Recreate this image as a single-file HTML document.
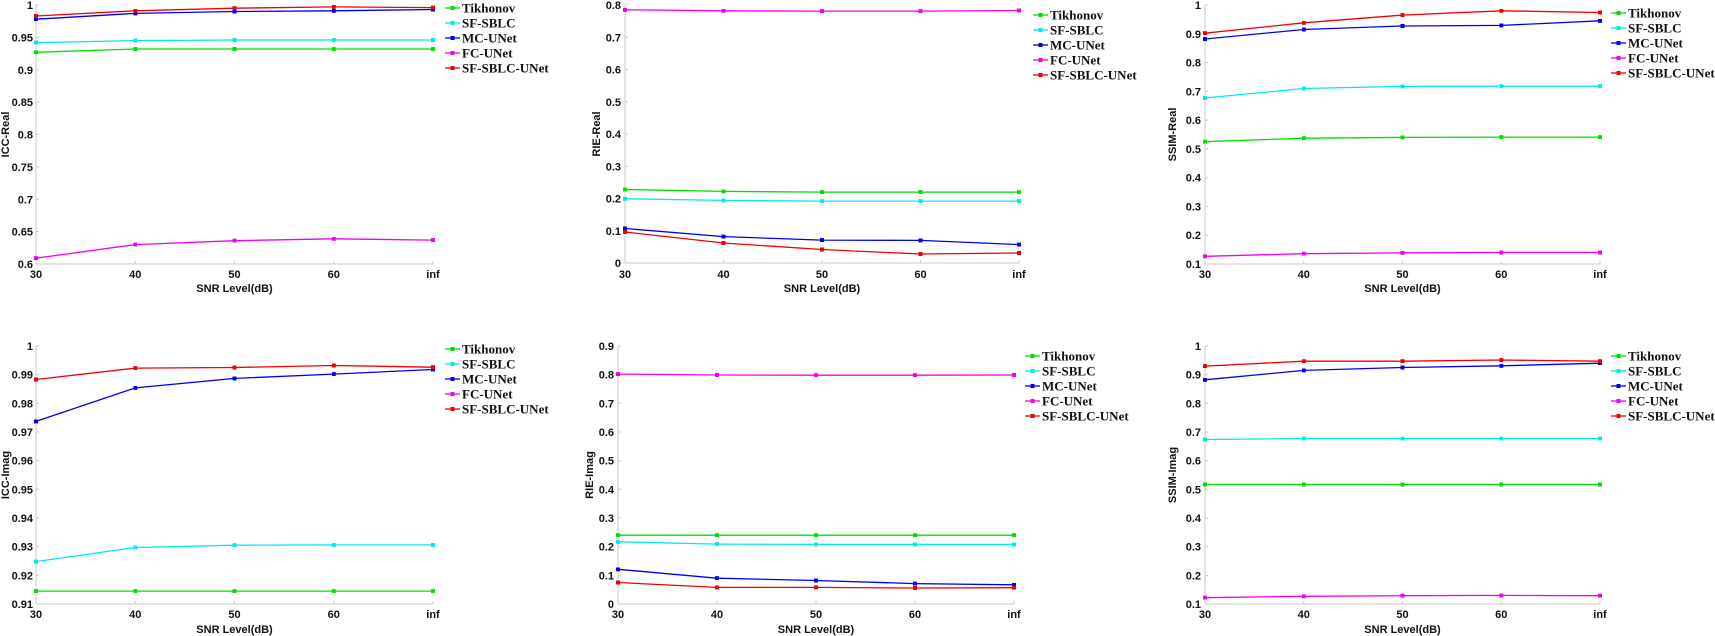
<!DOCTYPE html>
<html><head><meta charset="utf-8"><style>
html,body{margin:0;padding:0;background:#fff;}
svg{display:block;}
.t{font-family:"Liberation Sans",Arial,sans-serif;font-weight:bold;font-size:11px;fill:#111;}
.l{font-family:"Liberation Serif","Times New Roman",serif;font-weight:bold;font-size:13px;fill:#111;}
.ax{stroke:#c8c8c8;stroke-width:1;fill:none;}
polyline{fill:none;stroke-width:1.3;}
</style></head><body>
<svg width="1715" height="636" viewBox="0 0 1715 636" xmlns="http://www.w3.org/2000/svg">
<defs>
<marker id="mg" viewBox="0 0 4 4" refX="2" refY="2" markerWidth="4" markerHeight="4" markerUnits="userSpaceOnUse"><rect width="4" height="4" fill="#00e000"/></marker>
<marker id="mc" viewBox="0 0 4 4" refX="2" refY="2" markerWidth="4" markerHeight="4" markerUnits="userSpaceOnUse"><rect width="4" height="4" fill="#00e8f0"/></marker>
<marker id="mb" viewBox="0 0 4 4" refX="2" refY="2" markerWidth="4" markerHeight="4" markerUnits="userSpaceOnUse"><rect width="4" height="4" fill="#0000f0"/></marker>
<marker id="mm" viewBox="0 0 4 4" refX="2" refY="2" markerWidth="4" markerHeight="4" markerUnits="userSpaceOnUse"><rect width="4" height="4" fill="#f000f0"/></marker>
<marker id="mr" viewBox="0 0 4 4" refX="2" refY="2" markerWidth="4" markerHeight="4" markerUnits="userSpaceOnUse"><rect width="4" height="4" fill="#f00000"/></marker>
</defs>

<!-- ===== Panel A: ICC-Real ===== -->
<path class="ax" d="M36,5V264H433"/>
<path class="ax" d="M36,5h3M36,37.4h3M36,69.8h3M36,102.1h3M36,134.5h3M36,166.9h3M36,199.3h3M36,231.6h3M135.25,264v-3M234.5,264v-3M333.75,264v-3M433,264v-3"/>
<g class="t" text-anchor="end">
<text x="33" y="9">1</text><text x="33" y="41.4">0.95</text><text x="33" y="73.8">0.9</text><text x="33" y="106.1">0.85</text><text x="33" y="138.5">0.8</text><text x="33" y="170.9">0.75</text><text x="33" y="203.3">0.7</text><text x="33" y="235.6">0.65</text><text x="33" y="268">0.6</text>
</g>
<g class="t" text-anchor="middle">
<text x="36" y="278">30</text><text x="135.25" y="278">40</text><text x="234.5" y="278">50</text><text x="333.75" y="278">60</text><text x="433" y="278">inf</text>
<text x="234.5" y="292">SNR Level(dB)</text>
<text transform="translate(9,134.5) rotate(-90)">ICC-Real</text>
</g>
<polyline stroke="#00e000" marker-start="url(#mg)" marker-mid="url(#mg)" marker-end="url(#mg)" points="36,52.3 135.25,49 234.5,49 333.75,49 433,49"/>
<polyline stroke="#00e8f0" marker-start="url(#mc)" marker-mid="url(#mc)" marker-end="url(#mc)" points="36,42.6 135.25,40.6 234.5,40 333.75,40 433,40"/>
<polyline stroke="#f000f0" marker-start="url(#mm)" marker-mid="url(#mm)" marker-end="url(#mm)" points="36,258.2 135.25,244.6 234.5,240.7 333.75,238.8 433,240.1"/>
<polyline stroke="#0000f0" marker-start="url(#mb)" marker-mid="url(#mb)" marker-end="url(#mb)" points="36,19.2 135.25,13.4 234.5,11.5 333.75,10.8 433,9.5"/>
<polyline stroke="#f00000" marker-start="url(#mr)" marker-mid="url(#mr)" marker-end="url(#mr)" points="36,16 135.25,10.8 234.5,8.2 333.75,6.9 433,7.6"/>

<!-- ===== Panel B: RIE-Real ===== -->
<path class="ax" d="M625,5V263H1019"/>
<path class="ax" d="M625,5h3M625,37.25h3M625,69.5h3M625,101.75h3M625,134h3M625,166.25h3M625,198.5h3M625,230.75h3M723.5,263v-3M822,263v-3M920.5,263v-3M1019,263v-3"/>
<g class="t" text-anchor="end">
<text x="621" y="9">0.8</text><text x="621" y="41.25">0.7</text><text x="621" y="73.5">0.6</text><text x="621" y="105.75">0.5</text><text x="621" y="138">0.4</text><text x="621" y="170.25">0.3</text><text x="621" y="202.5">0.2</text><text x="621" y="234.75">0.1</text><text x="621" y="267">0</text>
</g>
<g class="t" text-anchor="middle">
<text x="625" y="278">30</text><text x="723.5" y="278">40</text><text x="822" y="278">50</text><text x="920.5" y="278">60</text><text x="1019" y="278">inf</text>
<text x="822" y="292">SNR Level(dB)</text>
<text transform="translate(600,134) rotate(-90)">RIE-Real</text>
</g>
<polyline stroke="#f000f0" marker-start="url(#mm)" marker-mid="url(#mm)" marker-end="url(#mm)" points="625,9.8 723.5,10.8 822,11.1 920.5,11.1 1019,10.5"/>
<polyline stroke="#00e000" marker-start="url(#mg)" marker-mid="url(#mg)" marker-end="url(#mg)" points="625,189.5 723.5,191.4 822,192.1 920.5,192.1 1019,192.1"/>
<polyline stroke="#00e8f0" marker-start="url(#mc)" marker-mid="url(#mc)" marker-end="url(#mc)" points="625,198.8 723.5,200.4 822,201.1 920.5,201.1 1019,201.1"/>
<polyline stroke="#0000f0" marker-start="url(#mb)" marker-mid="url(#mb)" marker-end="url(#mb)" points="625,228.5 723.5,236.6 822,240.1 920.5,240.4 1019,244.6"/>
<polyline stroke="#f00000" marker-start="url(#mr)" marker-mid="url(#mr)" marker-end="url(#mr)" points="625,232 723.5,243 822,249.5 920.5,254 1019,253"/>

<!-- ===== Panel C: SSIM-Real ===== -->
<path class="ax" d="M1205,5V264H1600"/>
<path class="ax" d="M1205,5h3M1205,33.8h3M1205,62.6h3M1205,91.3h3M1205,120.1h3M1205,148.9h3M1205,177.7h3M1205,206.4h3M1205,235.2h3M1303.75,264v-3M1402.5,264v-3M1501.25,264v-3M1600,264v-3"/>
<g class="t" text-anchor="end">
<text x="1201" y="9">1</text><text x="1201" y="37.8">0.9</text><text x="1201" y="66.6">0.8</text><text x="1201" y="95.3">0.7</text><text x="1201" y="124.1">0.6</text><text x="1201" y="152.9">0.5</text><text x="1201" y="181.7">0.4</text><text x="1201" y="210.4">0.3</text><text x="1201" y="239.2">0.2</text><text x="1201" y="268">0.1</text>
</g>
<g class="t" text-anchor="middle">
<text x="1205" y="278">30</text><text x="1303.75" y="278">40</text><text x="1402.5" y="278">50</text><text x="1501.25" y="278">60</text><text x="1600" y="278">inf</text>
<text x="1402.5" y="292">SNR Level(dB)</text>
<text transform="translate(1176,134.5) rotate(-90)">SSIM-Real</text>
</g>
<polyline stroke="#00e000" marker-start="url(#mg)" marker-mid="url(#mg)" marker-end="url(#mg)" points="1205,141.7 1303.75,138.2 1402.5,137.4 1501.25,137.1 1600,137.1"/>
<polyline stroke="#00e8f0" marker-start="url(#mc)" marker-mid="url(#mc)" marker-end="url(#mc)" points="1205,98 1303.75,88.5 1402.5,86.4 1501.25,86.2 1600,86.2"/>
<polyline stroke="#f000f0" marker-start="url(#mm)" marker-mid="url(#mm)" marker-end="url(#mm)" points="1205,256.3 1303.75,253.7 1402.5,252.8 1501.25,252.5 1600,252.5"/>
<polyline stroke="#0000f0" marker-start="url(#mb)" marker-mid="url(#mb)" marker-end="url(#mb)" points="1205,39 1303.75,29.5 1402.5,26 1501.25,25.4 1600,20.8"/>
<polyline stroke="#f00000" marker-start="url(#mr)" marker-mid="url(#mr)" marker-end="url(#mr)" points="1205,33.2 1303.75,22.8 1402.5,15.1 1501.25,10.8 1600,12.5"/>

<!-- ===== Panel D: ICC-Imag ===== -->
<path class="ax" d="M36,346V604H433"/>
<path class="ax" d="M36,346h3M36,374.7h3M36,403.3h3M36,432h3M36,460.7h3M36,489.3h3M36,518h3M36,546.7h3M36,575.3h3M135.25,604v-3M234.5,604v-3M333.75,604v-3M433,604v-3"/>
<g class="t" text-anchor="end">
<text x="33" y="350">1</text><text x="33" y="378.7">0.99</text><text x="33" y="407.3">0.98</text><text x="33" y="436">0.97</text><text x="33" y="464.7">0.96</text><text x="33" y="493.3">0.95</text><text x="33" y="522">0.94</text><text x="33" y="550.7">0.93</text><text x="33" y="579.3">0.92</text><text x="33" y="608">0.91</text>
</g>
<g class="t" text-anchor="middle">
<text x="36" y="618">30</text><text x="135.25" y="618">40</text><text x="234.5" y="618">50</text><text x="333.75" y="618">60</text><text x="433" y="618">inf</text>
<text x="234.5" y="633">SNR Level(dB)</text>
<text transform="translate(9,475) rotate(-90)">ICC-Imag</text>
</g>
<polyline stroke="#00e000" marker-start="url(#mg)" marker-mid="url(#mg)" marker-end="url(#mg)" points="36,591.1 135.25,591.1 234.5,591.1 333.75,591.1 433,591.1"/>
<polyline stroke="#00e8f0" marker-start="url(#mc)" marker-mid="url(#mc)" marker-end="url(#mc)" points="36,561.6 135.25,547.5 234.5,545.2 333.75,544.9 433,544.9"/>
<polyline stroke="#0000f0" marker-start="url(#mb)" marker-mid="url(#mb)" marker-end="url(#mb)" points="36,421.4 135.25,387.9 234.5,378.4 333.75,374.1 433,369.5"/>
<polyline stroke="#f00000" marker-start="url(#mr)" marker-mid="url(#mr)" marker-end="url(#mr)" points="36,379.5 135.25,368.1 234.5,367.5 333.75,365.5 433,367.2"/>

<!-- ===== Panel E: RIE-Imag ===== -->
<path class="ax" d="M618,346V604H1014"/>
<path class="ax" d="M618,346h3M618,374.7h3M618,403.3h3M618,432h3M618,460.7h3M618,489.3h3M618,518h3M618,546.7h3M618,575.3h3M717,604v-3M816,604v-3M915,604v-3M1014,604v-3"/>
<g class="t" text-anchor="end">
<text x="614" y="350">0.9</text><text x="614" y="378.7">0.8</text><text x="614" y="407.3">0.7</text><text x="614" y="436">0.6</text><text x="614" y="464.7">0.5</text><text x="614" y="493.3">0.4</text><text x="614" y="522">0.3</text><text x="614" y="550.7">0.2</text><text x="614" y="579.3">0.1</text><text x="614" y="608">0</text>
</g>
<g class="t" text-anchor="middle">
<text x="618" y="618">30</text><text x="717" y="618">40</text><text x="816" y="618">50</text><text x="915" y="618">60</text><text x="1014" y="618">inf</text>
<text x="816" y="633">SNR Level(dB)</text>
<text transform="translate(593,475) rotate(-90)">RIE-Imag</text>
</g>
<polyline stroke="#f000f0" marker-start="url(#mm)" marker-mid="url(#mm)" marker-end="url(#mm)" points="618,374.1 717,375 816,375.2 915,375.2 1014,375"/>
<polyline stroke="#00e000" marker-start="url(#mg)" marker-mid="url(#mg)" marker-end="url(#mg)" points="618,535.2 717,535.2 816,535.2 915,535.2 1014,535.2"/>
<polyline stroke="#00e8f0" marker-start="url(#mc)" marker-mid="url(#mc)" marker-end="url(#mc)" points="618,541.8 717,544.1 816,544.4 915,544.4 1014,544.4"/>
<polyline stroke="#0000f0" marker-start="url(#mb)" marker-mid="url(#mb)" marker-end="url(#mb)" points="618,569.3 717,578.2 816,580.5 915,583.6 1014,584.8"/>
<polyline stroke="#f00000" marker-start="url(#mr)" marker-mid="url(#mr)" marker-end="url(#mr)" points="618,582.5 717,587.4 816,587.4 915,588 1014,587.7"/>

<!-- ===== Panel F: SSIM-Imag ===== -->
<path class="ax" d="M1205,346V604H1600"/>
<path class="ax" d="M1205,346h3M1205,374.7h3M1205,403.3h3M1205,432h3M1205,460.7h3M1205,489.3h3M1205,518h3M1205,546.7h3M1205,575.3h3M1303.75,604v-3M1402.5,604v-3M1501.25,604v-3M1600,604v-3"/>
<g class="t" text-anchor="end">
<text x="1201" y="350">1</text><text x="1201" y="378.7">0.9</text><text x="1201" y="407.3">0.8</text><text x="1201" y="436">0.7</text><text x="1201" y="464.7">0.6</text><text x="1201" y="493.3">0.5</text><text x="1201" y="522">0.4</text><text x="1201" y="550.7">0.3</text><text x="1201" y="579.3">0.2</text><text x="1201" y="608">0.1</text>
</g>
<g class="t" text-anchor="middle">
<text x="1205" y="618">30</text><text x="1303.75" y="618">40</text><text x="1402.5" y="618">50</text><text x="1501.25" y="618">60</text><text x="1600" y="618">inf</text>
<text x="1402.5" y="633">SNR Level(dB)</text>
<text transform="translate(1176,475) rotate(-90)">SSIM-Imag</text>
</g>
<polyline stroke="#00e000" marker-start="url(#mg)" marker-mid="url(#mg)" marker-end="url(#mg)" points="1205,484.5 1303.75,484.5 1402.5,484.5 1501.25,484.5 1600,484.5"/>
<polyline stroke="#00e8f0" marker-start="url(#mc)" marker-mid="url(#mc)" marker-end="url(#mc)" points="1205,439.5 1303.75,438.6 1402.5,438.6 1501.25,438.6 1600,438.6"/>
<polyline stroke="#f000f0" marker-start="url(#mm)" marker-mid="url(#mm)" marker-end="url(#mm)" points="1205,597.7 1303.75,596.3 1402.5,595.7 1501.25,595.4 1600,595.7"/>
<polyline stroke="#0000f0" marker-start="url(#mb)" marker-mid="url(#mb)" marker-end="url(#mb)" points="1205,379.8 1303.75,370.4 1402.5,367.5 1501.25,365.8 1600,363.2"/>
<polyline stroke="#f00000" marker-start="url(#mr)" marker-mid="url(#mr)" marker-end="url(#mr)" points="1205,366.1 1303.75,361.2 1402.5,361.2 1501.25,360 1600,361.2"/>

<!-- ===== Legends ===== -->
<g id="lgA">
<path stroke="#00e000" stroke-width="1.3" d="M445,8h15"/><rect x="450.5" y="6" width="4" height="4" fill="#00e000"/>
<path stroke="#00e8f0" stroke-width="1.3" d="M445,23h15"/><rect x="450.5" y="21" width="4" height="4" fill="#00e8f0"/>
<path stroke="#0000f0" stroke-width="1.3" d="M445,38h15"/><rect x="450.5" y="36" width="4" height="4" fill="#0000f0"/>
<path stroke="#f000f0" stroke-width="1.3" d="M445,53h15"/><rect x="450.5" y="51" width="4" height="4" fill="#f000f0"/>
<path stroke="#f00000" stroke-width="1.3" d="M445,68h15"/><rect x="450.5" y="66" width="4" height="4" fill="#f00000"/>
<g class="l"><text x="462" y="12.5">Tikhonov</text><text x="462" y="27.5">SF-SBLC</text><text x="462" y="42.5">MC-UNet</text><text x="462" y="57.5">FC-UNet</text><text x="462" y="72.5">SF-SBLC-UNet</text></g>
</g>
<use href="#lgA" transform="translate(588,7)"/>
<use href="#lgA" transform="translate(1166,5)"/>
<use href="#lgA" transform="translate(0,341)"/>
<use href="#lgA" transform="translate(580,348)"/>
<use href="#lgA" transform="translate(1166,348)"/>
</svg>
</body></html>
